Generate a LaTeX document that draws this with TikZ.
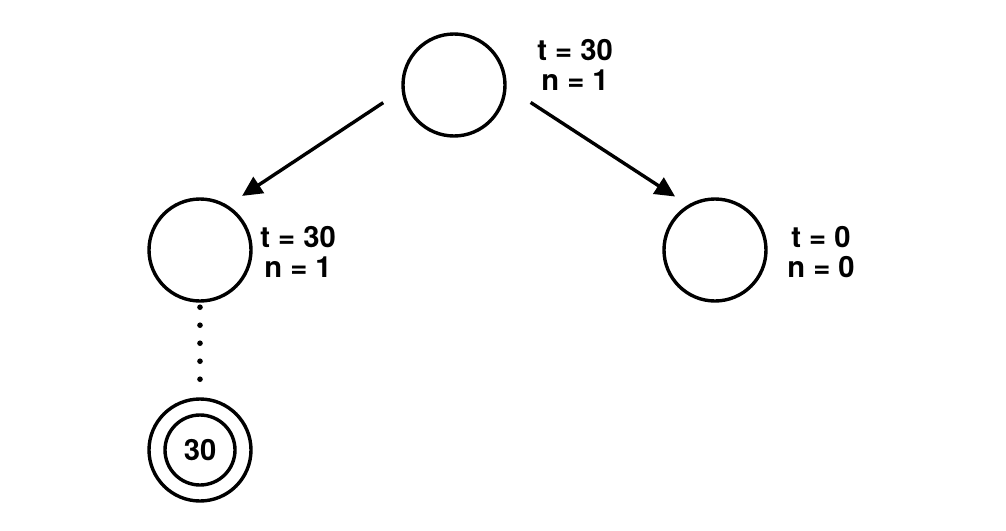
\documentclass[tikz,border=0pt]{standalone}
\usepackage{fontspec}
\setmainfont{TeX Gyre Heros}
\usetikzlibrary{arrows.meta}
\tikzset{
  state/.style={circle,draw,line width=1.7pt,minimum size=51pt,inner sep=0pt},
  tlabel/.style={font=\bfseries\fontsize{14.6}{15.2}\selectfont,align=center},
  arr/.style={-{Triangle[length=10pt,width=9.5pt]},line width=1.7pt},
  dots/.style={line width=2.8pt,line cap=round,dash pattern=on 0pt off 9pt}
}
\begin{document}
\begin{tikzpicture}[x=0.5pt,y=-0.5pt]
\useasboundingbox (0,0) rectangle (1006,530);
\node [state] (root) at (454,85) {};
\node [state] (left) at (200,250) {};
\node [state] (right) at (715,250) {};
\node [state] (leaf) at (200,450) {};
\node [state,tlabel,minimum size=35pt] (leafin) at (leaf) {30};
% counters
\node [tlabel] (rootlab) at (575,65) {t = 30\\n = 1};
\node [tlabel] (leftlab) at (298,252) {t = 30\\n = 1};
\node [tlabel] (rightlab) at (821,252) {t = 0\\n = 0};
\draw [arr,shorten <=11pt,shorten >=8.5pt] (root.186) -- (left.58);
\draw [arr,shorten <=14.3pt,shorten >=7.6pt] (root.-2) -- (right.121);
\draw [dots,shorten <=2.25pt,shorten >=5pt] (left) -- (leaf);
\end{tikzpicture}
\end{document}
